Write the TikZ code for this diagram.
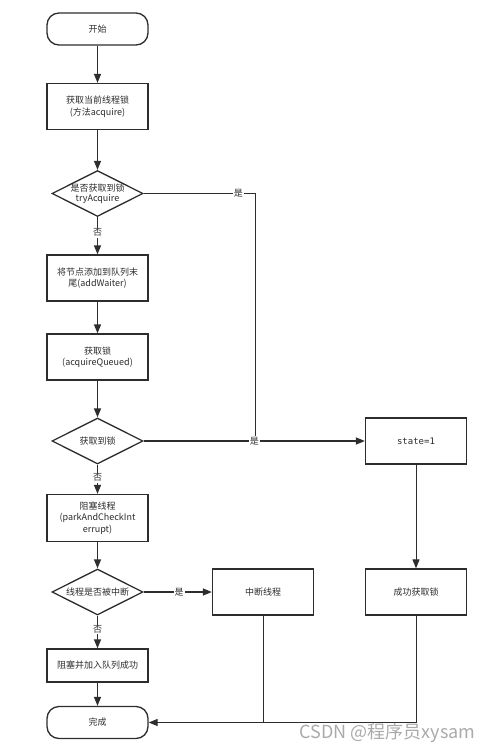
\documentclass[tikz,border=0pt]{standalone}
\usepackage{fontspec}
\setmainfont{Noto Sans CJK SC}
\newfontfamily\monofont{DejaVu Sans Mono}
\usetikzlibrary{positioning,arrows.meta,shapes.geometric}
\definecolor{lineg}{RGB}{45,45,45}
\definecolor{markg}{RGB}{170,170,170}

\begin{document}
\begin{tikzpicture}[
  x=1pt, y=-1pt,
  every node/.style={font=\fontsize{9}{11.5}\selectfont, text=lineg},
  term/.style={draw=lineg, line width=1.3pt, rectangle, rounded corners=12pt,
    minimum width=101pt, minimum height=32pt, fill=white},
  box/.style={draw=lineg, line width=1.3pt, rectangle, align=center,
    minimum width=101pt, minimum height=46pt, fill=white},
  cond/.style={draw=lineg, line width=1.3pt, diamond, aspect=2, inner sep=0pt,
    minimum width=91pt, minimum height=46pt, fill=white},
  yn/.style={fill=white, inner sep=1pt},
  link/.style={draw=lineg, line width=1.3pt, -{Triangle[length=9pt,width=7pt]}},
  side/.style={draw=lineg, line width=1pt, -{Triangle[length=9pt,width=7pt]}},
  plain/.style={draw=lineg, line width=1pt}
]
\useasboundingbox (0,0) rectangle (493,753);

% main column
\node[term] (start) at (97.5,29) {开始};
\node[box] (lock) at (97.5,106.5) {获取当前线程锁\\(方法acquire)};
\node[cond, label={[align=center,font=\fontsize{9}{10.5}\selectfont]center:是否获取到锁\\tryAcquire}] (try) at (97.5,193.5) {};
\node[box] (add) at (97.5,278) {将节点添加到队列末\\尾(addWaiter)};
\node[box] (queued) at (97.5,357) {获取锁\\(acquireQueued)};
\node[cond, label=center:获取到锁] (got) at (97.5,441) {};
\node[box, minimum height=47pt, text width=88pt] (park) at (97.5,518) {阻塞线程\\(parkAndCheckInt\\errupt)};
\node[cond, label=center:线程是否被中断] (intq) at (97.5,592) {};
\node[box, minimum height=33pt] (wait) at (97.5,665.5) {阻塞并加入队列成功};
\node[term] (done) at (97.5,722.5) {完成};

% right side
\node[box] (state) at (416,441) {\monofont state=1};
\node[box] (intr) at (263,592) {中断线程};
\node[box] (ok) at (416,592) {成功获取锁};
\coordinate (turn) at (255,193.5);

\draw[link] (start) -- (lock);
\draw[link] (lock) -- (try);
\draw[link] (try) -- node[yn, pos=0.42] {否} (add);
\draw[link] (add) -- (queued);
\draw[link] (queued) -- (got);
\draw[link] (got) -- node[yn, pos=0.45] {否} (park);
\draw[link] (park) -- (intq);
\draw[link] (intq) -- node[yn, pos=0.42] {否} (wait);
\draw[link] (wait) -- (done);

\draw[plain] (try.east) -- node[yn, pos=0.85] {是} (turn) -- (turn |- got.east);
\draw[link] (got.east) -- node[yn, pos=0.5] {是} (state.west);
\draw[link] (intq.east) -- node[yn, pos=0.52] {是} (intr.west);
\draw[side] (state) -- (ok);
\draw[side] (ok.south) |- (done.east);
\draw[plain] (intr.south) -- (intr.south |- done.east);

\node[font=\fontsize{18}{20}\selectfont, text=markg, anchor=east] (mark) at (479,733) {CSDN @程序员xysam};
\end{tikzpicture}
\end{document}
